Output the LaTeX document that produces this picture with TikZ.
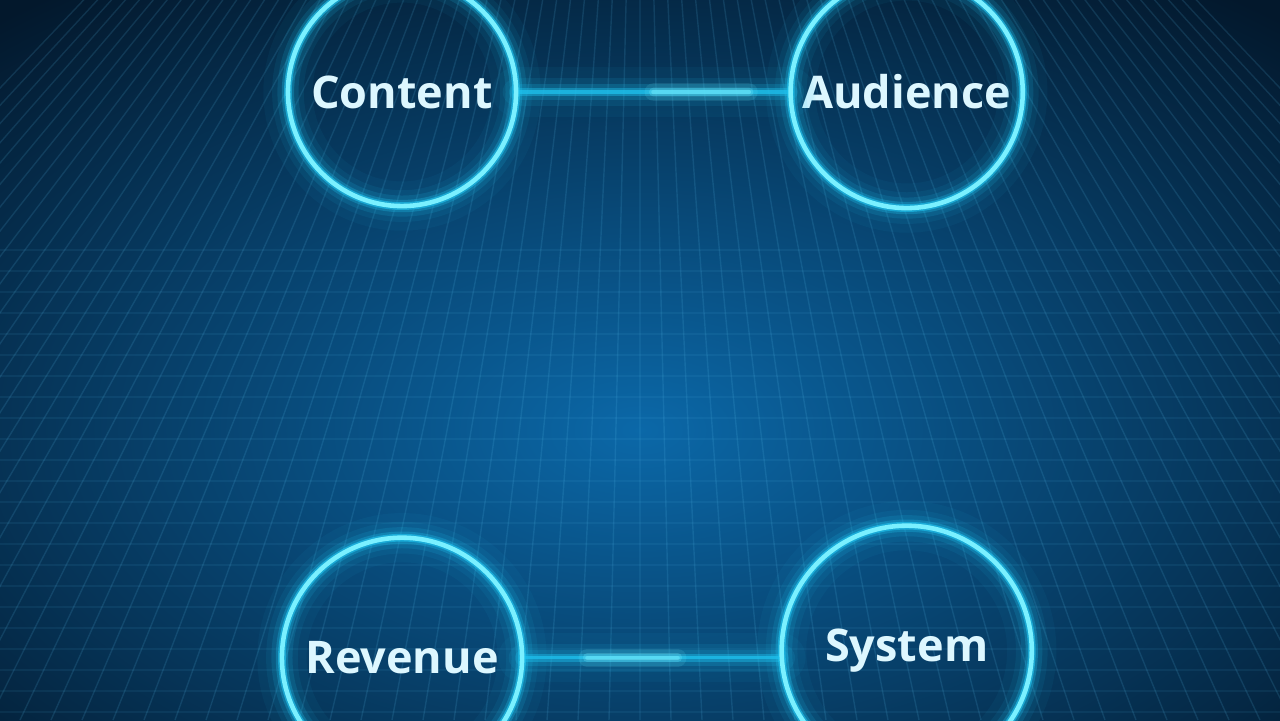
\documentclass[tikz,border=0pt]{standalone}
\usepackage{fontspec}
\setmainfont{Open Sans}
\usetikzlibrary{positioning, calc}

\definecolor{bgmid}{HTML}{0B68A8}
\definecolor{bgdark}{HTML}{03182C}
\definecolor{gridc}{HTML}{5CC4F2}
\definecolor{glow}{HTML}{1FC4F0}
\definecolor{ringc}{HTML}{7AF0FF}
\definecolor{labelc}{HTML}{DDF7FF}

\begin{document}
\begin{tikzpicture}[x=0.01cm, y=-0.01cm]
    \tikzstyle{hub} = [circle, inner sep=0pt, text=labelc, font=\fontsize{12.8}{15}\selectfont\bfseries];
    \tikzstyle{beam} = [draw=glow, line cap=round];

    \useasboundingbox (0,0) rectangle (1280,720);
    \clip (0,0) rectangle (1280,720);
    \shade[inner color=bgmid, outer color=bgdark] (-320,-120) rectangle (1600,980);

    % perspective grid
    \begin{scope}[draw=gridc, line width=0.4pt]
        \foreach \i in {-40,...,40}
            \draw[opacity=0.14] ($(640,-586)!0.35!(640+\i*31,720)$) -- (640+\i*31,720);
        \foreach \k in {0,...,22}
            \draw[opacity=0.08] (0,250+\k*21) -- (1280,250+\k*21);
    \end{scope}

    \node[hub, minimum size=2.28cm] at (402,92) (Co) {Content};
    \node[hub, minimum size=2.32cm, right = 2.73cm of Co] (Au) {Audience};
    \node[hub, minimum size=2.4cm, below = 3.3cm of Co] (Re) {Revenue};
    \node[hub, minimum size=2.5cm, below = 3.16cm of Au] (Sy) {System};

    % glowing links
    \foreach \w/\o in {14/0.05, 8/0.1, 4.5/0.18, 2.2/0.4, 0.9/0.7} {
        \draw[beam, line width=\w pt, opacity=\o] (Co.east) -- (Au.west);
        \draw[beam, line width=\w pt, opacity=\o] (Re.east) -- (Re.east -| Sy.west);
    }
    \foreach \w/\o in {5/0.12, 2.5/0.25, 1.2/0.45} {
        \draw[draw=ringc, line width=\w pt, opacity=\o, line cap=round]
            ($(Co.east)!0.5!(Au.west)$) -- ($(Co.east)!0.85!(Au.west)$);
        \draw[draw=ringc, line width=\w pt, opacity=\o, line cap=round]
            ($(Re.east)!0.25!(Re.east -| Sy.west)$) -- ($(Re.east)!0.6!(Re.east -| Sy.west)$);
    }

    % glowing rings
    \foreach \n/\r in {Co/1.14, Au/1.16, Re/1.2, Sy/1.25} {
        \foreach \w/\o in {14/0.05, 9/0.08, 6/0.14, 3.5/0.28, 2.2/0.6}
            \draw[draw=glow, line width=\w pt, opacity=\o] (\n.center) circle[radius=\r cm];
        \draw[draw=ringc, line width=1.3pt] (\n.center) circle[radius=\r cm];
    }
\end{tikzpicture}
\end{document}
